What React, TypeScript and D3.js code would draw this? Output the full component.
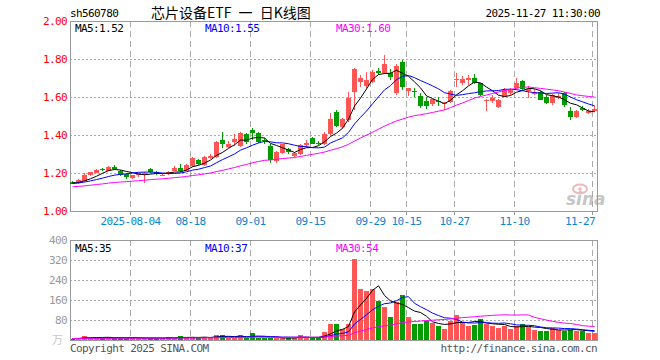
import React from "react";
import * as d3 from "d3";

// ---- data (sh560780, daily K) ----
const dates = [
  "07-21","07-22","07-23","07-24","07-25","07-28","07-29","07-30","07-31","08-01",
  "08-04","08-05","08-06","08-07","08-08","08-11","08-12","08-13","08-14","08-15",
  "08-18","08-19","08-20","08-21","08-22","08-25","08-26","08-27","08-28","08-29",
  "09-01","09-02","09-03","09-04","09-05","09-08","09-09","09-10","09-11","09-12",
  "09-15","09-16","09-17","09-18","09-19","09-22","09-23","09-24","09-25","09-26",
  "09-29","09-30","10-09","10-10","10-13","10-14","10-15","10-16","10-17","10-20",
  "10-21","10-22","10-23","10-24","10-27","10-28","10-29","10-30","10-31","11-03",
  "11-04","11-05","11-06","11-07","11-10","11-11","11-12","11-13","11-14","11-17",
  "11-18","11-19","11-20","11-21","11-24","11-25","11-26","11-27",
];
const opens = [
  1.151,1.146,1.160,1.189,1.202,1.222,1.212,1.233,1.210,1.193,
  1.172,1.189,1.193,1.219,1.205,1.186,1.195,1.212,1.225,1.212,
  1.237,1.268,1.242,1.280,1.283,1.374,1.338,1.365,1.342,1.405,
  1.426,1.412,1.372,1.344,1.265,1.307,1.325,1.290,1.300,1.347,
  1.386,1.358,1.350,1.405,1.519,1.444,1.480,1.625,1.680,1.660,
  1.680,1.737,1.725,1.728,1.620,1.783,1.632,1.630,1.607,1.580,
  1.561,1.578,1.562,1.575,1.690,1.672,1.688,1.702,1.672,1.580,
  1.579,1.549,1.602,1.619,1.649,1.684,1.630,1.615,1.628,1.600,
  1.567,1.596,1.619,1.528,1.496,1.544,1.518,1.528,
];
const highs = [
  1.156,1.168,1.198,1.206,1.222,1.228,1.236,1.240,1.216,1.198,
  1.192,1.202,1.204,1.224,1.208,1.195,1.212,1.238,1.250,1.246,
  1.285,1.272,1.292,1.300,1.368,1.417,1.370,1.405,1.418,1.410,
  1.438,1.416,1.385,1.350,1.318,1.355,1.330,1.312,1.350,1.372,
  1.392,1.366,1.418,1.515,1.530,1.490,1.625,1.755,1.715,1.730,
  1.740,1.752,1.820,1.750,1.775,1.795,1.650,1.648,1.620,1.600,
  1.592,1.600,1.575,1.635,1.725,1.710,1.716,1.720,1.675,1.588,
  1.610,1.590,1.645,1.650,1.700,1.690,1.660,1.640,1.632,1.612,
  1.615,1.620,1.625,1.545,1.532,1.550,1.535,1.552,
];
const lows = [
  1.140,1.143,1.158,1.185,1.198,1.212,1.208,1.216,1.185,1.170,
  1.168,1.180,1.149,1.200,1.190,1.182,1.190,1.208,1.205,1.210,
  1.233,1.240,1.238,1.272,1.280,1.330,1.330,1.340,1.338,1.352,
  1.372,1.360,1.355,1.251,1.254,1.300,1.300,1.283,1.296,1.335,
  1.350,1.345,1.345,1.395,1.440,1.430,1.470,1.530,1.655,1.650,
  1.675,1.715,1.720,1.690,1.610,1.635,1.605,1.600,1.540,1.535,
  1.555,1.550,1.530,1.570,1.655,1.665,1.665,1.668,1.605,1.528,
  1.570,1.540,1.600,1.610,1.640,1.635,1.595,1.610,1.582,1.565,
  1.560,1.590,1.548,1.480,1.490,1.525,1.510,1.522,
];
const closes = [
  1.142,1.163,1.189,1.204,1.216,1.220,1.233,1.221,1.189,1.177,
  1.189,1.198,1.200,1.207,1.193,1.190,1.207,1.228,1.210,1.242,
  1.277,1.245,1.286,1.290,1.365,1.355,1.352,1.380,1.412,1.365,
  1.412,1.365,1.368,1.268,1.312,1.350,1.308,1.303,1.345,1.360,
  1.355,1.355,1.405,1.485,1.449,1.483,1.597,1.745,1.698,1.688,
  1.733,1.727,1.772,1.705,1.765,1.655,1.646,1.627,1.550,1.550,
  1.588,1.572,1.570,1.632,1.695,1.695,1.700,1.672,1.610,1.585,
  1.596,1.584,1.637,1.637,1.672,1.640,1.640,1.628,1.586,1.568,
  1.612,1.606,1.556,1.493,1.528,1.530,1.525,1.535,
];
// volume, 万手
const volumes = [
  5,8,17,9,10,7,11,8,8,7,
  9,7,8,7,8,7,11,8,17,9,
  9,8,14,10,21,19,9,9,20,8,
  28,10,8,9,8,8,8,8,20,9,
  8,9,33,63,65,43,65,325,203,195,
  205,156,132,93,152,179,91,63,65,77,
  69,57,43,76,101,74,57,61,84,66,
  57,47,57,43,57,63,54,41,36,35,
  50,40,38,42,38,38,30,27,
];
// estimated sessions before the first visible day (only feed the moving averages)
const leadInCloses = [
  1.105,1.108,1.102,1.110,1.115,1.112,1.118,1.121,1.116,1.114,
  1.120,1.124,1.119,1.122,1.127,1.125,1.130,1.128,1.133,1.131,
  1.138,1.142,1.140,1.146,1.149,1.145,1.150,1.147,1.151,
];
const leadInVolumes = [
  6,5,7,6,5,8,6,5,6,7,5,6,6,5,7,6,5,6,6,7,5,6,5,6,7,6,5,6,6,
];
const priceTicks = [1.0, 1.2, 1.4, 1.6, 1.8, 2.0];
const volumeTicks = [80, 160, 240, 320, 400];
const dateTicks = ["08-04","08-18","09-01","09-15","09-29","10-15","10-27","11-10","11-27"];
const dateTickLabels = ["2025-08-04","08-18","09-01","09-15","09-29","10-15","10-27","11-10","11-27"];
const maPeriods = [5, 10, 30];
const maColors = ["#000000", "#0000ff", "#ff00ff"];

function movingAverage(series: number[], lead: number[], n: number): number[] {
  const all = lead.concat(series);
  return series.map((_, i) => {
    const end = i + lead.length + 1;
    return d3.mean(all.slice(end - n, end)) as number;
  });
}

const RED = "#ff5555";
const GREEN = "#009c00";
const MONO = "'DejaVu Sans Mono', 'Liberation Mono', monospace";

export default function App() {
  const L = 70, R = 597;
  const x = d3.scaleLinear().domain([0, 88]).range([L, L + 6 * 88]);
  const y = d3.scaleLinear().domain([1.0, 2.0]).range([211, 21]);
  const yv = d3.scaleLinear().domain([0, 400]).range([340, 240]);
  const cx = (i: number) => x(i) + 2.5;

  const priceMA = maPeriods.map((n) => movingAverage(closes, leadInCloses, n));
  const volMA = maPeriods.map((n) => movingAverage(volumes, leadInVolumes, n));
  const lineP = d3.line<number>().x((_, i) => cx(i)).y((d) => y(d));
  const lineV = d3.line<number>().x((_, i) => cx(i)).y((d) => yv(d));

  const gridX = dateTicks.map((d) => x(dates.indexOf(d)) + 0.5);
  const textStyle = { fontFamily: MONO, fontSize: 11, letterSpacing: -0.6 } as React.CSSProperties;
  const legendX = [75, 205, 336];

  const fmt2 = d3.format(".2f");

  return (
    <div style={{ position: "fixed", left: 0, top: 0 }}>
      <svg width={660} height={360} style={{ display: "block", background: "#fff" }}>
        {/* header */}
        <text x={70} y={17} style={textStyle} fill="#000">sh560780</text>
        <text x={151} y={18} fontFamily="'Noto Sans CJK SC', sans-serif" fontSize={14} wordSpacing={4} fill="#000">
          芯片设备ETF 一 日K线图
        </text>
        <text x={600} y={17} style={textStyle} textAnchor="end" fill="#000">2025-11-27 11:30:00</text>

        {/* price grid */}
        <g shapeRendering="crispEdges">
          {priceTicks.slice(1, -1).map((t) => (
            <line key={t} x1={L} x2={R} y1={Math.round(y(t)) + 0.5} y2={Math.round(y(t)) + 0.5}
              stroke="#aaa" strokeDasharray="2,2" />
          ))}
          {gridX.map((gx, k) => (
            <line key={k} x1={gx} x2={gx} y1={21} y2={211} stroke="#aaa" strokeDasharray="6,4" />
          ))}
          {gridX.map((gx, k) => (
            <line key={"t" + k} x1={gx} x2={gx} y1={211} y2={215} stroke="#999" />
          ))}
          <rect x={L + 0.5} y={21.5} width={R - L} height={190} fill="none" stroke="#999" />
        </g>

        {/* price labels */}
        {priceTicks.map((t) => (
          <text key={t} x={67} y={y(t) + 4} textAnchor="end" style={textStyle} fill="#ff0000">
            {fmt2(t)}
          </text>
        ))}
        {/* date labels */}
        {dateTickLabels.map((lab, k) => {
          const w = lab.length * 6;
          let c = gridX[k];
          if (c + w / 2 > 595) c = 595 - w / 2;
          return (
            <text key={lab} x={c} y={225} textAnchor="middle" style={textStyle} fill="#0a86d0">
              {lab}
            </text>
          );
        })}

        {/* candles */}
        <g shapeRendering="crispEdges">
          {closes.map((c, i) => {
            const o = opens[i];
            const up = c >= o;
            const col = up ? RED : GREEN;
            const top = Math.round(y(Math.max(o, c)));
            const bot = Math.round(y(Math.min(o, c)));
            return (
              <g key={i}>
                <line x1={cx(i)} x2={cx(i)} y1={Math.round(y(highs[i]))} y2={Math.round(y(lows[i]))} stroke={col} />
                <rect x={x(i)} y={top} width={5} height={Math.max(1, bot - top)} fill={col} />
              </g>
            );
          })}
        </g>
        {/* price MAs */}
        {priceMA.map((ma, k) => (
          <path key={k} d={lineP(ma) || ""} fill="none" stroke={maColors[k]} strokeWidth={1} />
        ))}
        {/* price legend */}
        {priceMA.map((ma, k) => (
          <text key={k} x={legendX[k]} y={32} style={textStyle} fill={maColors[k]}>
            {`MA${maPeriods[k]}:${fmt2(ma[ma.length - 1])}`}
          </text>
        ))}

        {/* watermark */}
        <g opacity={0.55}>
          <ellipse cx={580} cy={189} rx={7} ry={4.5} fill="none" stroke="#e08080" strokeWidth={2} />
          <circle cx={580} cy={189} r={1.8} fill="#e08080" />
          <text x={566} y={205} fontFamily="'DejaVu Sans', sans-serif" fontSize={17} fontStyle="italic"
            fontWeight="bold" fill="#999">sina</text>
        </g>

        {/* volume grid */}
        <g shapeRendering="crispEdges">
          {volumeTicks.slice(0, -1).map((t) => (
            <line key={t} x1={L} x2={R} y1={Math.round(yv(t)) + 0.5} y2={Math.round(yv(t)) + 0.5}
              stroke="#aaa" strokeDasharray="2,2" />
          ))}
          {gridX.map((gx, k) => (
            <line key={k} x1={gx} x2={gx} y1={240} y2={340} stroke="#aaa" strokeDasharray="6,4" />
          ))}
        </g>
        {/* volume bars */}
        <g shapeRendering="crispEdges">
          {volumes.map((v, i) => (
            <rect key={i} x={x(i)} y={yv(v)} width={5} height={340 - yv(v)}
              fill={closes[i] >= opens[i] ? RED : GREEN} />
          ))}
        </g>
        {volMA.map((ma, k) => (
          <path key={k} d={lineV(ma) || ""} fill="none" stroke={maColors[k]} strokeWidth={1} />
        ))}
        <g shapeRendering="crispEdges">
          <rect x={L + 0.5} y={240.5} width={R - L} height={100} fill="none" stroke="#999" />
        </g>
        {volumeTicks.map((t) => (
          <text key={t} x={67} y={yv(t) + 4} textAnchor="end" style={textStyle} fill="#999">{t}</text>
        ))}
        <text x={63} y={344} textAnchor="end" fontFamily="'Noto Sans CJK SC', sans-serif" fontSize={11} fill="#c8c8c8">万</text>
        {volMA.map((ma, k) => (
          <text key={k} x={legendX[k]} y={252} style={textStyle} fill={maColors[k]}>
            {`MA${maPeriods[k]}:${Math.round(ma[ma.length - 1])}`}
          </text>
        ))}

        {/* footer */}
        <text x={70} y={352} style={textStyle} fill="#555">Copyright 2025 SINA.COM</text>
        <text x={597} y={352} textAnchor="end" style={textStyle} fill="#555">http://finance.sina.com.cn</text>
      </svg>
    </div>
  );
}
